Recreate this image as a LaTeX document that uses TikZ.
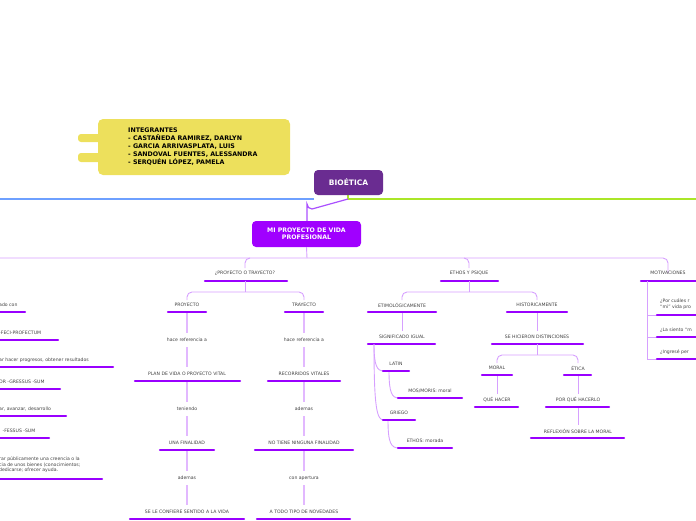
\documentclass[tikz,border=0pt]{standalone}
\usepackage{fontspec}
\setmainfont{DejaVu Sans}
\begin{document}
\begin{tikzpicture}[x=1pt,y=-1pt,
  txt/.style={font=\fontsize{4.6}{5.6}\selectfont, text=black!75, inner sep=0pt},
  ul/.style={line width=2.4pt, draw={rgb,255:red,153;green,0;blue,255}, line cap=round},
  con/.style={draw={rgb,255:red,214;green,160;blue,255}, line width=0.9pt},
  vcon/.style={draw={rgb,255:red,226;green,184;blue,255}, line width=1.6pt}]
\useasboundingbox (0,0) rectangle (696,520);
\begin{scope}
\clip (0,0) rectangle (696,520);
% top lines
\draw[draw={rgb,255:red,110;green,160;blue,255}, line width=1.2pt] (-5,199) -- (314,199);
\draw[draw={rgb,255:red,170;green,230;blue,40}, line width=1.2pt] (348,195) -- (348,199) -- (700,199);
\draw[draw={rgb,255:red,170;green,80;blue,255}, line width=1.2pt] (307,221) -- (307,204) arc[start angle=180,end angle=90,radius=5] -- (348,199);
% yellow box
\fill[fill={rgb,255:red,237;green,224;blue,92}, rounded corners=3pt] (78,134) rectangle (104,142);
\fill[fill={rgb,255:red,237;green,224;blue,92}, rounded corners=3pt] (78,153) rectangle (104,162);
\node[fill={rgb,255:red,237;green,224;blue,92}, rounded corners=5pt, minimum width=192pt, minimum height=56pt, inner sep=0pt] (yb) at (194,147) {};
\node[anchor=west, align=left, font=\bfseries\fontsize{6.3}{8}\selectfont, inner sep=0pt] (ybt) at (128,147) {INTEGRANTES\\- CASTAÑEDA RAMIREZ, DARLYN\\- GARCIA ARRIVASPLATA, LUIS\\- SANDOVAL FUENTES, ALESSANDRA\\- SERQUÉN LÓPEZ, PAMELA};
% main nodes
\node[fill={rgb,255:red,106;green,44;blue,145}, rounded corners=4pt, minimum width=69pt, minimum height=25pt, text=white, font=\bfseries\fontsize{7.5}{9}\selectfont] (bio) at (348.5,182.5) {BIOÉTICA};
\node[fill={rgb,255:red,160;green,0;blue,255}, rounded corners=4pt, minimum width=109pt, minimum height=26pt, text=white, align=center, font=\bfseries\fontsize{6.2}{7.4}\selectfont, inner sep=0pt] (mp) at (306.5,234) {MI PROYECTO DE VIDA\\PROFESIONAL};
% level 1 connector
\draw[con] (mp.south) -- (307,258);
\draw[con] (-5,258) -- (663,258) arc[start angle=-90,end angle=0,radius=5] -- (668,273);
\draw[con] (245,268) -- (245,263) arc[start angle=180,end angle=270,radius=5] -- (250,258);
\draw[con] (469,268) -- (469,263) arc[start angle=0,end angle=-90,radius=5];
% headings
\node[txt] (pt) at (245,273) {¿PROYECTO O TRAYECTO?}; \draw[ul] (205,281) -- (287,281);
\node[txt] (ep) at (469,273) {ETHOS Y PSIQUE}; \draw[ul] (441,281) -- (498,281);
\node[txt] (mo) at (668,273) {MOTIVACIONES}; \draw[ul] (641,281) -- (700,281);
% proyecto / trayecto
\draw[con] (245,281) -- (245,292); \draw[con] (187,300) -- (187,297) arc[start angle=180,end angle=270,radius=5] -- (299,292) arc[start angle=-90,end angle=0,radius=5] -- (304,300);
\node[txt] (pr) at (187,305) {PROYECTO}; \draw[ul] (168,312) -- (206,312);
\node[txt] (tr) at (304,305) {TRAYECTO}; \draw[ul] (285,312) -- (323,312);
\foreach \x/\a/\b/\c/\d/\e/\f/\l/\r/\m/\n/\o/\p in {187/hace referencia a/PLAN DE VIDA O PROYECTO VITAL/teniendo/UNA FINALIDAD/ademas/SE LE CONFIERE SENTIDO A LA VIDA/135/240/160/214/130/244, 304/hace referencia a/RECORRIDOS VITALES/ademas/NO TIENE NINGUNA FINALIDAD/con apertura/A TODO TIPO DE NOVEDADES/268/340/255/353/257/350}{
  \draw[vcon] (\x,313) -- (\x,333); \draw[vcon] (\x,347) -- (\x,367);
  \draw[vcon] (\x,382) -- (\x,402); \draw[vcon] (\x,416) -- (\x,436);
  \draw[vcon] (\x,451) -- (\x,471); \draw[vcon] (\x,485) -- (\x,505);
  \node[txt] at (\x,340) {\a};
  \node[txt] at (\x,374) {\b}; \draw[ul] (\l,381) -- (\r,381);
  \node[txt] at (\x,409) {\c};
  \node[txt] at (\x,443) {\d}; \draw[ul] (\m,450) -- (\n,450);
  \node[txt] at (\x,478) {\e};
  \node[txt] at (\x,512) {\f}; \draw[ul] (\o,519) -- (\p,519);
}
% left cut-off column
\node[txt,anchor=west] at (-1,305) {ado con}; \draw[ul] (-5,312) -- (25,312);
\node[txt,anchor=west] at (-1,333) {-FECI-PROFECTUM}; \draw[ul] (-5,340) -- (58,340);
\node[txt,anchor=west] at (-1,360) {ar hacer progresos, obtener resultados}; \draw[ul] (-5,367) -- (113,367);
\node[txt,anchor=west] at (-1,382) {OR -GRESSUS -SUM}; \draw[ul] (-5,389) -- (60,389);
\node[txt,anchor=west] at (-1,409) {ar, avanzar, desarrollo}; \draw[ul] (-5,416) -- (66,416);
\node[txt,anchor=west] at (-1,431) {. -FESSUS -SUM}; \draw[ul] (-5,438) -- (49,438);
\node[txt,anchor=west,align=left] at (-1,465) {rar públicamente una creencia o la\\cia de unos bienes (conocimientos;\\ dedicarse; ofrecer ayuda.}; \draw[ul] (-5,479) -- (102,479);
% ethos
\draw[con] (469,281) -- (469,292); \draw[con] (402,300) -- (402,297) arc[start angle=180,end angle=270,radius=5] -- (532,292) arc[start angle=-90,end angle=0,radius=5] -- (537,300);
\node[txt] at (402,305) {ETIMOLÓGICAMENTE}; \draw[ul] (368,312) -- (436,312);
\node[txt] at (537,305) {HISTORICAMENTE}; \draw[ul] (507,312) -- (567,312);
\draw[con] (402,313) -- (402,331); \draw[con] (537,313) -- (537,331);
\node[txt] at (402,337) {SIGNIFICADO IGUAL}; \draw[ul] (368,344) -- (435,344);
\node[txt] at (537,337) {SE HICIERON DISTINCIONES}; \draw[ul] (492,344) -- (583,344);
\draw[con] (374,344) .. controls (374,366) and (377,371) .. (384,371);
\draw[con] (374,344) .. controls (374,410) and (377,420) .. (384,420);
\draw[con] (389,371) .. controls (389,393) and (392,398) .. (399,398);
\draw[con] (388,420) .. controls (388,443) and (391,448) .. (399,448);
\node[txt] at (396,364) {LATIN}; \draw[ul] (383,371) -- (409,371);
\node[txt] at (430,391) {MOS/MORIS: moral}; \draw[ul] (398,398) -- (462,398);
\node[txt] at (399,413) {GRIEGO}; \draw[ul] (383,420) -- (415,420);
\node[txt] at (425,441) {ETHOS: morada}; \draw[ul] (398,448) -- (452,448);
\draw[con] (537,344) -- (537,355); \draw[con] (497,363) -- (497,360) arc[start angle=180,end angle=270,radius=5] -- (573,355) arc[start angle=-90,end angle=0,radius=5] -- (578,363);
\node[txt] at (497,368) {MORAL}; \draw[ul] (482,375) -- (512,375);
\node[txt] at (578,368) {ÉTICA}; \draw[ul] (564,375) -- (591,375);
\draw[con] (497,376) -- (497,394); \draw[con] (578,376) -- (578,394); \draw[con] (578,408) -- (578,425);
\node[txt] at (497,400) {QUÉ HACER}; \draw[ul] (475,407) -- (518,407);
\node[txt] at (578,400) {POR QUÉ HACERLO}; \draw[ul] (546,407) -- (609,407);
\node[txt] at (578,431) {REFLEXIÓN SOBRE LA MORAL}; \draw[ul] (531,438) -- (624,438);
% motivaciones
\draw[con] (647,281) -- (647,359) -- (657,359); \draw[con] (647,315) -- (657,315); \draw[con] (647,337) -- (657,337);
\node[txt,anchor=west,align=left] at (660,304) {¿Por cuáles r\\“mi” vida pro}; \draw[ul] (657,315) -- (700,315);
\node[txt,anchor=west] at (660,330) {¿La siento “m}; \draw[ul] (657,337) -- (700,337);
\node[txt,anchor=west] at (660,352) {¿Ingresé per}; \draw[ul] (657,359) -- (700,359);
\end{scope}
\end{tikzpicture}
\end{document}
